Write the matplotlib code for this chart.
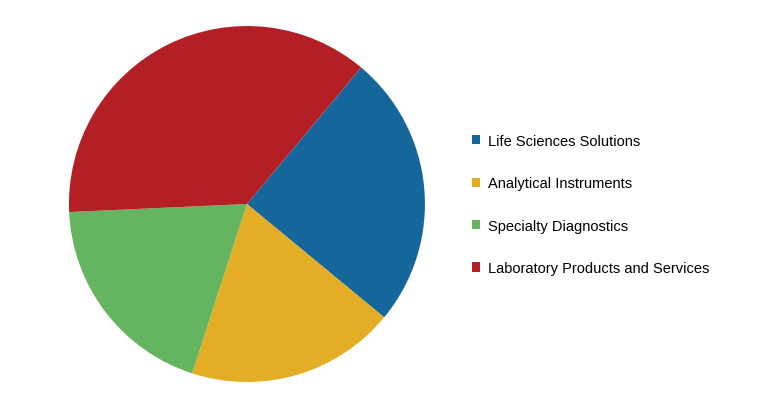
import matplotlib
matplotlib.use("Agg")
import matplotlib.pyplot as plt
from matplotlib.patches import Patch

labels = ["Life Sciences Solutions", "Analytical Instruments", "Specialty Diagnostics", "Laboratory Products and Services"]
values = [24.9, 19.0, 19.3, 36.8]
colors = ["#15669a", "#e3ad25", "#64b460", "#b31f24"]

plt.rcParams['font.family'] = ['Liberation Sans', 'DejaVu Sans']
fig = plt.figure(figsize=(7.68, 4.02), dpi=100)
ax = fig.add_axes([0.0898, 0.047, 0.4635, 0.886])
ax.pie(values, colors=colors, startangle=50.1, counterclock=False, radius=1.0,
       wedgeprops=dict(linewidth=0))
ax.set_xlim(-1, 1)
ax.set_ylim(-1, 1)
ax.set_aspect("equal")
ax.axis("off")
handles = [Patch(facecolor=c, label=l) for c, l in zip(colors, labels)]
fig.legend(handles=handles, loc="upper left", bbox_to_anchor=(0.597, 0.697),
           frameon=False, fontsize=10.5, labelspacing=1.95, handlelength=0.6,
           handleheight=0.6, handletextpad=0.5)
fig.savefig("out.png", dpi=100)
